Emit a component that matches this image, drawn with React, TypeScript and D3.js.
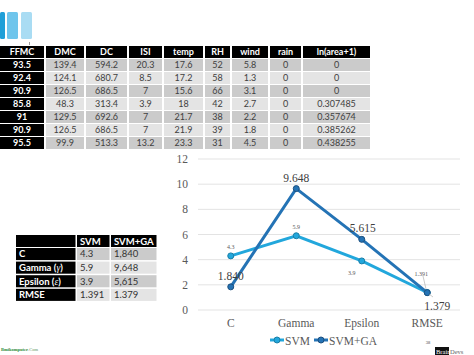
import React from "react";
import * as d3 from "d3";

const tableHeaders = ["FFMC", "DMC", "DC", "ISI", "temp", "RH", "wind", "rain", "ln(area+1)"];
const tableRows = [
  ["93.5", "139.4", "594.2", "20.3", "17.6", "52", "5.8", "0", "0"],
  ["92.4", "124.1", "680.7", "8.5", "17.2", "58", "1.3", "0", "0"],
  ["90.9", "126.5", "686.5", "7", "15.6", "66", "3.1", "0", "0"],
  ["85.8", "48.3", "313.4", "3.9", "18", "42", "2.7", "0", "0.307485"],
  ["91", "129.5", "692.6", "7", "21.7", "38", "2.2", "0", "0.357674"],
  ["90.9", "126.5", "686.5", "7", "21.9", "39", "1.8", "0", "0.385262"],
  ["95.5", "99.9", "513.3", "13.2", "23.3", "31", "4.5", "0", "0.438255"],
];

const paramHeaders = ["", "SVM", "SVM+GA"];
const paramNames = ["C", "Gamma", "Epsilon", "RMSE"];
const paramSymbols = ["", "\u03B3", "\u03B5", ""];
const paramSvm = ["4.3", "5.9", "3.9", "1.391"];
const paramSvmGa = ["1,840", "9,648", "5,615", "1.379"];

const categories = ["C", "Gamma", "Epsilon", "RMSE"];
const svmValues = [4.3, 5.9, 3.9, 1.391];
const svmGaValues = [1.84, 9.648, 5.615, 1.379];
const svmLabels = ["4.3", "5.9", "3.9", "1.391"];
const svmGaLabels = ["1.840", "9.648", "5.615", "1.379"];
const yTicks = [0, 2, 4, 6, 8, 10, 12];

const W = 474;
const H = 355;
const tableFont = "Lato, 'Open Sans', sans-serif";
const serif = "'Liberation Serif', 'DejaVu Serif', serif";

// layout
const colEdges = [0, 46, 86, 129, 164, 205, 232, 270, 303, 372];
const headerTop = 46;
const headerH = 12;
const rowTop = 59;
const rowH = 13;

const pColEdges = [16, 77, 111, 158];
const pHeaderTop = 235;
const pRowTop = 248;
const pRowH = 13.6;

const SVM_COLOR = "#22a7dc";
const GA_COLOR = "#2473b5";

export default function App() {
  const x = d3.scaleBand<string>().domain(categories).range([198, 460]);
  const y = d3.scaleLinear().domain([0, 12]).range([310, 159]);
  const cx = (c: string) => (x(c) ?? 0) + x.bandwidth() / 2;
  const line = d3
    .line<number>()
    .x((_, i) => cx(categories[i]))
    .y((d) => y(d));

  const medGray = "#cbcbcb";
  const lightGray = "#e4e4e4";

  const paramRows = paramNames.map((n, i) => [n, paramSvm[i], paramSvmGa[i]]);

  return (
    <svg
      width={W}
      height={H}
      style={{ position: "absolute", left: 0, top: 0, background: "#fff" }}
    >
      {/* decorative blue blocks */}
      <rect x={0} y={12} width={5} height={27} rx={1.5} fill="#1f9fd8" />
      <rect x={7} y={12} width={11} height={27} rx={1.5} fill="#6ec5ec" />
      <rect x={21} y={12} width={11} height={27} rx={1.5} fill="#a9dcf3" />
      <line x1={29.5} y1={42} x2={29.5} y2={45} stroke="#555" strokeWidth={0.6} />

      {/* data table */}
      {tableHeaders.map((h, j) => {
        const x0 = colEdges[j];
        const x1 = colEdges[j + 1] - 2;
        return (
          <g key={"h" + j}>
            <rect x={x0} y={headerTop} width={x1 - x0} height={headerH} fill="#000" />
            <text
              x={(x0 + x1) / 2}
              y={headerTop + headerH / 2 + 3.3}
              textAnchor="middle"
              fontFamily={tableFont}
              fontWeight="bold"
              fontSize={9}
              fill="#fff"
            >
              {h}
            </text>
          </g>
        );
      })}
      {tableRows.map((row, i) =>
        row.map((v, j) => {
          const x0 = colEdges[j];
          const x1 = colEdges[j + 1] - 2;
          const y0 = rowTop + i * rowH;
          const first = j === 0;
          const fill = first ? "#000" : i % 2 === 0 ? medGray : lightGray;
          return (
            <g key={"c" + i + "-" + j}>
              <rect x={x0} y={y0} width={x1 - x0} height={rowH - 1} fill={fill} />
              <text
                x={(x0 + x1) / 2}
                y={y0 + rowH / 2 + 2.8}
                textAnchor="middle"
                fontFamily={tableFont}
                fontWeight={first ? "bold" : "normal"}
                fontSize={9}
                fill={first ? "#fff" : "#404040"}
              >
                {v}
              </text>
            </g>
          );
        })
      )}

      {/* parameter table */}
      {paramHeaders.map((h, j) => {
        const x0 = pColEdges[j];
        const x1 = pColEdges[j + 1] - 1.5;
        return (
          <g key={"ph" + j}>
            <rect x={x0} y={pHeaderTop} width={x1 - x0} height={12} fill="#000" />
            <text
              x={x0 + 3}
              y={pHeaderTop + 9.5}
              fontFamily={tableFont}
              fontWeight="bold"
              fontSize={9.5}
              fill="#fff"
            >
              {h}
            </text>
          </g>
        );
      })}
      {paramRows.map((row, i) =>
        row.map((v, j) => {
          const x0 = pColEdges[j];
          const x1 = pColEdges[j + 1] - 1.5;
          const y0 = pRowTop + i * pRowH;
          const first = j === 0;
          const fill = first ? "#000" : i % 2 === 0 ? medGray : lightGray;
          const sym = first ? paramSymbols[i] : "";
          return (
            <g key={"pc" + i + "-" + j}>
              <rect x={x0} y={y0} width={x1 - x0} height={pRowH - 1.5} fill={fill} />
              <text
                x={x0 + 3}
                y={y0 + 9.3}
                fontFamily={tableFont}
                fontWeight={first ? "bold" : "normal"}
                fontSize={9.5}
                fill={first ? "#fff" : "#333"}
              >
                {v}
                {sym ? (
                  <>
                    {" ("}
                    <tspan fontFamily={serif} fontStyle="italic" fontWeight="normal">
                      {sym}
                    </tspan>
                    {")"}
                  </>
                ) : null}
              </text>
            </g>
          );
        })
      )}

      {/* chart grid */}
      {yTicks.map((t) => (
        <g key={"t" + t}>
          <line x1={198} x2={460} y1={y(t)} y2={y(t)} stroke="#e3e3e3" strokeWidth={1} />
          <text
            x={188}
            y={y(t) + 4}
            textAnchor="end"
            fontFamily={serif}
            fontSize={11.5}
            fill="#595959"
          >
            {t}
          </text>
        </g>
      ))}
      {categories.map((c) => (
        <text
          key={"x" + c}
          x={cx(c)}
          y={327}
          textAnchor="middle"
          fontFamily={serif}
          fontSize={11.5}
          fill="#595959"
        >
          {c}
        </text>
      ))}

      {/* series */}
      <path d={line(svmValues) ?? ""} fill="none" stroke={SVM_COLOR} strokeWidth={3} />
      <path d={line(svmGaValues) ?? ""} fill="none" stroke={GA_COLOR} strokeWidth={3} />
      {svmValues.map((v, i) => (
        <circle key={"sp" + i} cx={cx(categories[i])} cy={y(v)} r={3} fill={SVM_COLOR} stroke="#1a7fa8" strokeWidth={1} />
      ))}
      {svmGaValues.map((v, i) => (
        <circle key={"gp" + i} cx={cx(categories[i])} cy={y(v)} r={3} fill={GA_COLOR} stroke="#1b4f7e" strokeWidth={1} />
      ))}

      {/* SVM labels (small) */}
      {svmValues.map((v, i) => {
        const px = cx(categories[i]);
        const py = y(v);
        let lx = px;
        let ly = py - 7;
        if (i === 2) {
          lx = px - 10;
          ly = py + 14;
        }
        if (i === 3) {
          lx = px - 6;
          ly = py - 16;
        }
        return (
          <text
            key={"sl" + i}
            x={lx}
            y={ly}
            textAnchor="middle"
            fontFamily={serif}
            fontSize={6}
            fill="#595959"
          >
            {svmLabels[i]}
          </text>
        );
      })}
      <line x1={423} y1={276} x2={426} y2={289} stroke="#a6a6a6" strokeWidth={0.6} />
      <line x1={429} y1={294} x2={433} y2={297} stroke="#a6a6a6" strokeWidth={0.6} />

      {/* SVM+GA labels */}
      {svmGaValues.map((v, i) => {
        const px = cx(categories[i]);
        const py = y(v);
        let lx = px;
        let ly = py - 7;
        if (i === 2) {
          lx = px + 1;
          ly = py - 7;
        }
        if (i === 3) {
          lx = px + 10;
          ly = py + 17;
        }
        return (
          <text
            key={"gl" + i}
            x={lx}
            y={ly}
            textAnchor="middle"
            fontFamily={serif}
            fontSize={11.5}
            fill="#404040"
          >
            {svmGaLabels[i]}
          </text>
        );
      })}

      {/* legend */}
      <line x1={270} x2={284} y1={340} y2={340} stroke={SVM_COLOR} strokeWidth={3} />
      <circle cx={277} cy={340} r={3} fill={SVM_COLOR} stroke="#1a7fa8" strokeWidth={1} />
      <text x={285} y={344.5} fontFamily={serif} fontSize={11.5} fill="#595959">
        SVM
      </text>
      <line x1={314} x2={328} y1={340} y2={340} stroke={GA_COLOR} strokeWidth={3} />
      <circle cx={321} cy={340} r={3} fill={GA_COLOR} stroke="#1b4f7e" strokeWidth={1} />
      <text x={329} y={344.5} fontFamily={serif} fontSize={11.5} fill="#595959">
        SVM+GA
      </text>

      {/* footer */}
      <text x={1} y={351} fontFamily={serif} fontSize={4.5} fill="#2e8b3a" fontWeight="bold">
        Bmikomputer
        <tspan fontWeight="normal" fill="#5a8f5a">.Com</tspan>
      </text>
      <text x={428} y={344} textAnchor="middle" fontFamily={serif} fontSize={4.5} fill="#444">
        38
      </text>
      <rect x={435} y={347} width={14} height={8} fill="#111" />
      <text x={436} y={353.5} fontFamily={serif} fontSize={6.5} fill="#fff">
        Brain
      </text>
      <text x={450} y={353.5} fontFamily={serif} fontSize={6.5} fill="#666">
        Devs
      </text>
    </svg>
  );
}
